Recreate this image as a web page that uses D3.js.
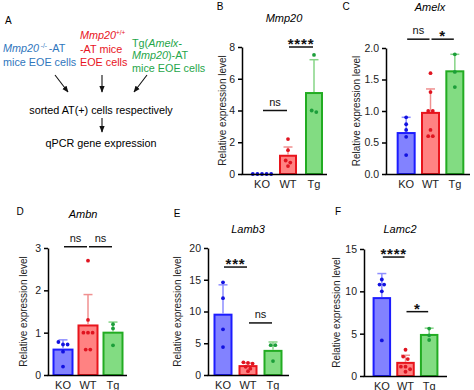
<!DOCTYPE html>
<html>
<head>
<style>
  body { margin: 0; background: #fff; }
  text { font-family: "Liberation Sans", Arial, sans-serif; }
</style>
</head>
<body>
<svg class="fig" width="474" height="390"></svg>
<script src="https://cdn.jsdelivr.net/npm/d3@7"></script>
<script>
const groups = ['KO', 'WT', 'Tg']

// B  Mmp20
const mmp20Mean = [0, 1.15, 5.1]
const mmp20ErrTop = [0, 1.7, 7.2]
const mmp20Dots = [[0, 0, 0, 0, 0], [2.2, 1.5, 0.85, 0.72, 0.5], [7.5, 4.0, 3.9]]
// C  Amelx
const amelxMean = [0.65, 0.97, 1.63]
const amelxErrTop = [0.9, 1.35, 1.9]
const amelxDots = [[0.9, 0.79, 0.7, 0.59, 0.3], [1.6, 1.3, 1.0, 1.0, 0.7, 0.6, 0.6], [1.9, 1.62, 1.38]]
// D  Ambn
const ambnMean = [0.6, 1.17, 1.0]
const ambnErrTop = [0.83, 1.9, 1.25]
const ambnDots = [[0.78, 0.72, 0.72, 0.55, 0.2], [2.7, 1.3, 1.0, 1.0, 1.0, 0.6, 0.6], [1.2, 1.1, 0.7]]
// E  Lamb3
const lamb3Mean = [9.5, 1.4, 3.8]
const lamb3ErrTop = [14.2, 1.9, 5.2]
const lamb3Dots = [[14.6, 12.1, 7.2, 4.4], [2.0, 1.9, 1.8, 1.3, 1.0, 0.6], [4.7, 4.7, 2.2]]
// F  Lamc2
const lamc2Mean = [9.2, 1.55, 4.85]
const lamc2ErrTop = [12.1, 2.45, 5.65]
const lamc2Dots = [[11.4, 10.8, 10.8, 10.0, 4.2], [3.1, 2.3, 2.0, 1.1, 1.1, 0.8, 0.5], [5.6, 4.8, 4.25]]

// significance: [from, to, level, label]
const mmp20Sig = [[0, 1, 4, 'ns'], [1, 2, 8, '****']]
const amelxSig = [[0, 1, 2.14, 'ns'], [1, 2, 2.14, '*']]
const ambnSig = [[0, 1, 3.03, 'ns'], [1, 2, 3.03, 'ns']]
const lamb3Sig = [[0, 1, 17, '***'], [1, 2, 8.2, 'ns']]
const lamc2Sig = [[0, 1, 14.05, '****'], [1, 2, 7.6, '*']]

const colors = {
  KO: { fill: '#8282ff', stroke: '#1c1cff', dot: '#1212e0', err: '#8e8eff' },
  WT: { fill: '#ff8282', stroke: '#e8141c', dot: '#e01420', err: '#f09090' },
  Tg: { fill: '#82dc82', stroke: '#22ac22', dot: '#1c9e3a', err: '#86d486' }
}

const svg = d3.select('.fig')

function panel(p) {
  const g = svg.append('g')
  const y = d3.scaleLinear().domain([0, p.yMax]).range([p.yBot, p.yTop])
  const x = d3.scaleBand().domain(groups).range(p.band)
  const cx = d => x(d) + x.bandwidth() / 2

  g.selectAll('rect.bar').data(groups).join('rect')
    .attr('class', 'bar')
    .attr('x', d => cx(d) - p.barW / 2)
    .attr('y', (d, i) => y(p.mean[i]))
    .attr('width', p.barW)
    .attr('height', (d, i) => y(0) - y(p.mean[i]))
    .attr('fill', d => colors[d].fill)
    .attr('stroke', d => colors[d].stroke)
    .attr('stroke-width', 2)

  groups.forEach((k, i) => {
    if (p.err[i] <= p.mean[i]) return
    g.append('line')
      .attr('x1', cx(k)).attr('x2', cx(k))
      .attr('y1', y(p.mean[i]) - 1).attr('y2', y(p.err[i]))
      .attr('stroke', colors[k].err).attr('stroke-width', 1.5)
    g.append('line')
      .attr('x1', cx(k) - 4.5).attr('x2', cx(k) + 4.5)
      .attr('y1', y(p.err[i])).attr('y2', y(p.err[i]))
      .attr('stroke', colors[k].err).attr('stroke-width', 1.5)
  })

  // scatter: points that would overlap are spread sideways
  groups.forEach((k, i) => {
    const vals = p.dots[i].slice().sort((a, b) => b - a)
    const rows = []
    vals.forEach(v => {
      const last = rows[rows.length - 1]
      if (last && Math.abs(y(last[0]) - y(v)) < 3.5) last.push(v)
      else rows.push([v])
    })
    const pts = []
    rows.forEach(r => r.forEach((v, j) => pts.push({ v, off: (j - (r.length - 1) / 2) * 4.6 })))
    g.selectAll(null).data(pts).join('circle')
      .attr('cx', d => cx(k) + d.off)
      .attr('cy', d => y(d.v))
      .attr('r', 1.9)
      .attr('fill', colors[k].dot)
  })

  const ax = g.append('g')
    .attr('transform', `translate(${p.x0},0)`)
    .call(d3.axisLeft(y).tickValues(p.ticks).tickSize(4).tickSizeOuter(0).tickPadding(3).tickFormat(p.fmt))
  ax.select('.domain').attr('stroke-width', 1.5)
  ax.selectAll('.tick line').attr('stroke-width', 1.5)
  ax.selectAll('.tick text').attr('font-size', 10.5).attr('fill', '#222').attr('font-family', null)

  g.append('line')
    .attr('x1', p.x0 - 0.5).attr('x2', p.xEnd)
    .attr('y1', y(0) + 0.5).attr('y2', y(0) + 0.5)
    .attr('stroke', '#000').attr('stroke-width', 1.5)

  g.selectAll('text.cat').data(groups).join('text')
    .attr('class', 'cat')
    .attr('x', cx).attr('y', y(0) + 13.5)
    .attr('text-anchor', 'middle').attr('font-size', 11).attr('fill', '#222')
    .text(d => d)

  g.append('text')
    .attr('transform', `translate(${p.labelX},${(p.yTop + p.yBot) / 2}) rotate(-90)`)
    .attr('text-anchor', 'middle').attr('font-size', 10).attr('fill', '#222')
    .text('Relative expression level')

  g.append('text')
    .attr('x', p.titleX).attr('y', p.titleY)
    .attr('text-anchor', 'middle').attr('font-size', 11).attr('font-style', 'italic')
    .text(p.title)

  g.append('text')
    .attr('x', p.letter[1]).attr('y', p.letter[2])
    .attr('text-anchor', 'middle').attr('font-size', 10)
    .text(p.letter[0])

  p.sig.forEach(([a, b, lv, lab]) => {
    const x1 = cx(groups[a]), x2 = cx(groups[b])
    g.append('line')
      .attr('x1', x1 + 1).attr('x2', x2 - 1)
      .attr('y1', y(lv)).attr('y2', y(lv))
      .attr('stroke', '#111').attr('stroke-width', 1.5)
    const star = lab !== 'ns'
    g.append('text')
      .attr('x', (x1 + x2) / 2).attr('y', star ? y(lv) + 2 : y(lv) - 5)
      .attr('text-anchor', 'middle')
      .attr('font-size', star ? 15 : 11)
      .attr('font-weight', star ? 'bold' : null)
      .attr('letter-spacing', star ? 0.8 : null)
      .attr('fill', '#111')
      .text(lab)
  })
}

panel({ title: 'Mmp20', letter: ['B', 220, 10], titleX: 284, titleY: 22,
  x0: 242, xEnd: 327, band: [249, 327], barW: 16, yTop: 47, yBot: 174, labelX: 226,
  yMax: 8, ticks: [0, 2, 4, 6, 8], fmt: d3.format('d'),
  mean: mmp20Mean, err: mmp20ErrTop, dots: mmp20Dots, sig: mmp20Sig })

panel({ title: 'Amelx', letter: ['C', 346, 10], titleX: 430, titleY: 11,
  x0: 386, xEnd: 470, band: [394, 467], barW: 17, yTop: 48, yBot: 174, labelX: 360,
  yMax: 2, ticks: [0, 0.5, 1, 1.5, 2], fmt: d3.format('.1f'),
  mean: amelxMean, err: amelxErrTop, dots: amelxDots, sig: amelxSig })

panel({ title: 'Ambn', letter: ['D', 20, 215], titleX: 83, titleY: 218,
  x0: 48, xEnd: 127, band: [50.5, 125.5], barW: 19, yTop: 248, yBot: 375, labelX: 27,
  yMax: 3, ticks: [0, 1, 2, 3], fmt: d3.format('d'),
  mean: ambnMean, err: ambnErrTop, dots: ambnDots, sig: ambnSig })

panel({ title: 'Lamb3', letter: ['E', 177, 217], titleX: 248, titleY: 233,
  x0: 208, xEnd: 289, band: [210.5, 285.5], barW: 17, yTop: 248, yBot: 375, labelX: 181,
  yMax: 20, ticks: [0, 5, 10, 15, 20], fmt: d3.format('d'),
  mean: lamb3Mean, err: lamb3ErrTop, dots: lamb3Dots, sig: lamb3Sig })

panel({ title: 'Lamc2', letter: ['F', 338, 215], titleX: 400, titleY: 233,
  x0: 364, xEnd: 447, band: [370, 441], barW: 16.5, yTop: 249, yBot: 376, labelX: 340,
  yMax: 15, ticks: [0, 5, 10, 15], fmt: d3.format('d'),
  mean: lamc2Mean, err: lamc2ErrTop, dots: lamc2Dots, sig: lamc2Sig })

// panel A: workflow
const a = svg.append('g').attr('font-size', 10.8)
a.append('text').attr('x', 5).attr('y', 24).attr('font-size', 10).text('A')

const blue = '#2f76bd', red = '#e8141e', green = '#1fa64a'
const t1 = a.append('text').attr('x', 3).attr('y', 52).attr('fill', blue)
t1.append('tspan').attr('font-style', 'italic').text('Mmp20')
t1.append('tspan').attr('font-size', 6.5).attr('dy', -4).text(' -/- ')
t1.append('tspan').attr('dy', 4).text('-AT')
a.append('text').attr('x', 3).attr('y', 66).attr('fill', blue).text('mice EOE cells')

const t2 = a.append('text').attr('x', 80).attr('y', 39).attr('fill', red)
t2.append('tspan').attr('font-style', 'italic').text('Mmp20')
t2.append('tspan').attr('font-size', 6.5).attr('dy', -4).text('+/+')
a.append('text').attr('x', 80).attr('y', 53).attr('fill', red).text('-AT mice')
a.append('text').attr('x', 80).attr('y', 66).attr('fill', red).text('EOE cells')

const t3 = a.append('text').attr('x', 132).attr('y', 47).attr('fill', green)
t3.append('tspan').text('Tg(')
t3.append('tspan').attr('font-style', 'italic').text('Amelx-')
const t4 = a.append('text').attr('x', 132).attr('y', 59).attr('fill', green)
t4.append('tspan').attr('font-style', 'italic').text('Mmp20')
t4.append('tspan').text(')-AT')
a.append('text').attr('x', 132).attr('y', 72).attr('fill', green).text('mice EOE cells')

a.append('text').attr('x', 101).attr('y', 114).attr('text-anchor', 'middle').text('sorted AT(+) cells respectively')
a.append('text').attr('x', 101).attr('y', 147).attr('text-anchor', 'middle').text('qPCR gene expression')

svg.append('defs').append('marker')
  .attr('id', 'ah').attr('viewBox', '0 0 10 10').attr('refX', 9).attr('refY', 5)
  .attr('markerWidth', 6).attr('markerHeight', 6).attr('orient', 'auto')
  .append('path').attr('d', 'M0,1L10,5L0,9Z').attr('fill', '#111')

const arrows = [[55, 75, 68, 92], [102, 75, 102, 92], [147, 75, 134, 92], [102, 118, 102, 132]]
a.selectAll('line').data(arrows).join('line')
  .attr('x1', d => d[0]).attr('y1', d => d[1]).attr('x2', d => d[2]).attr('y2', d => d[3])
  .attr('stroke', '#111').attr('stroke-width', 1.1).attr('marker-end', 'url(#ah)')
</script>
</body>
</html>
